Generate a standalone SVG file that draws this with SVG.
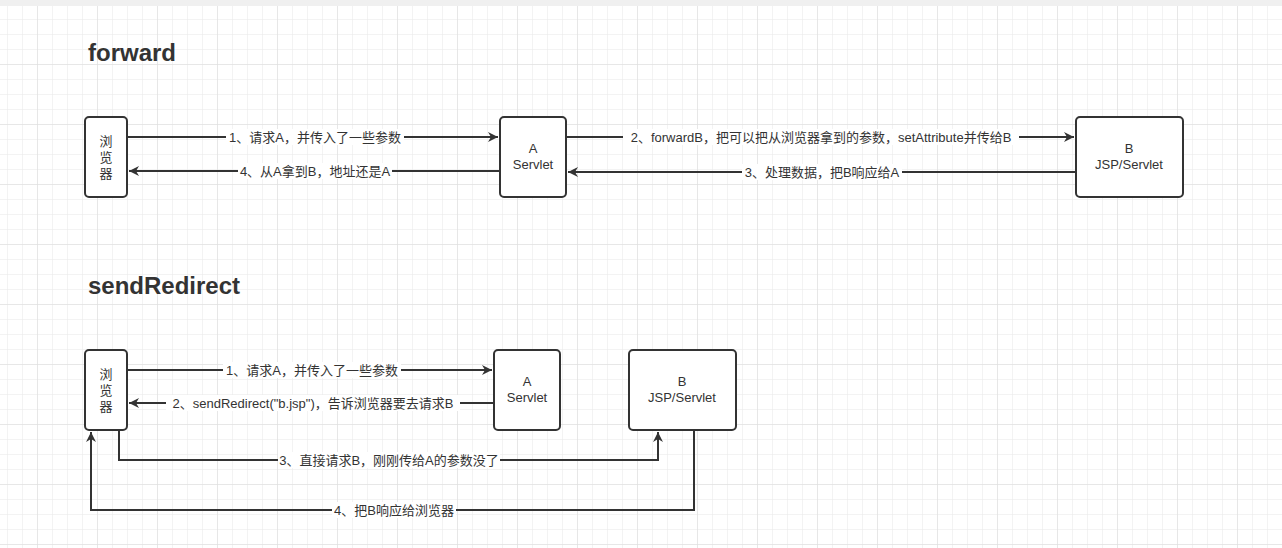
<svg xmlns="http://www.w3.org/2000/svg" width="1282" height="548" viewBox="0 0 1282 548">
<defs>
<pattern id="g" x="7" y="4" width="15" height="15" patternUnits="userSpaceOnUse"><path d="M0 0H15M0 0V15" stroke="#e8e8e8" stroke-width="1" fill="none"/></pattern>
<pattern id="G" x="37" y="4" width="60" height="60" patternUnits="userSpaceOnUse"><path d="M0 0H60M0 0V60" stroke="#dcdcdc" stroke-width="1" fill="none"/></pattern>
<marker id="a" viewBox="0 0 10 10" refX="10" refY="5" markerWidth="5" markerHeight="5" orient="auto"><path d="M0 0L10 5L0 10L3 5Z" fill="#333"/></marker>
</defs>
<style>
.n{fill:#fff;stroke:#333;stroke-width:2}
.t{font-family:"Liberation Sans","Noto Sans CJK SC",sans-serif;font-size:13px;fill:#333;text-anchor:middle}
.h{font-family:"Liberation Sans","Noto Sans CJK SC",sans-serif;font-size:24px;font-weight:bold;fill:#333}
.c{fill:none;stroke:#333;stroke-width:2;marker-end:url(#a)}
.l{font-family:"Liberation Sans","Noto Sans CJK SC",sans-serif;font-size:13px;fill:#333;text-anchor:middle}
.bg{fill:#fff}
</style>
<rect width="1282" height="548" fill="#fff"/>
<rect width="1282" height="548" fill="url(#g)"/>
<rect width="1282" height="548" fill="url(#G)"/>
<rect width="1282" height="6" fill="#f0f0f0"/>
<text class="h" x="88" y="61">forward</text>
<text class="h" x="88" y="294">sendRedirect</text>
<g id="connectors">
<path class="c" d="M127 137H498"/>
<path class="c" d="M500 171H129"/>
<path class="c" d="M566 137H1074"/>
<path class="c" d="M1076 172H568"/>
<path class="c" d="M127 370H492"/>
<path class="c" d="M494 403H129"/>
<path class="c" d="M119 430V460H658V432"/>
<path class="c" d="M694 430V510H91V432"/>
<rect class="bg" x="226" y="129" width="178" height="16"/><text class="l" x="315" y="142">1、请求A，并传入了一些参数</text>
<rect class="bg" x="238" y="163" width="154" height="16"/><text class="l" x="315" y="176">4、从A拿到B，地址还是A</text>
<rect class="bg" x="623" y="129" width="396" height="16"/><text class="l" x="821" y="142">2、forwardB，把可以把从浏览器拿到的参数，setAttribute并传给B</text>
<rect class="bg" x="742" y="164" width="160" height="16"/><text class="l" x="822" y="177">3、处理数据，把B响应给A</text>
<rect class="bg" x="223" y="362" width="178" height="16"/><text class="l" x="312" y="375">1、请求A，并传入了一些参数</text>
<rect class="bg" x="166" y="395" width="294" height="16"/><text class="l" x="313" y="408">2、sendRedirect("b.jsp")，告诉浏览器要去请求B</text>
<rect class="bg" x="278" y="452" width="222" height="16"/><text class="l" x="389" y="465">3、直接请求B，刚刚传给A的参数没了</text>
<rect class="bg" x="332" y="502" width="124" height="16"/><text class="l" x="394" y="515">4、把B响应给浏览器</text>
</g>
<g id="f-browser"><rect class="n" x="85" y="117" width="42" height="80" rx="4"/><text class="t" x="106" y="146">浏</text><text class="t" x="106" y="162">览</text><text class="t" x="106" y="178">器</text></g>
<g id="f-a"><rect class="n" x="500" y="117" width="66" height="80" rx="4"/><text class="t" x="533" y="153">A</text><text class="t" x="533" y="169">Servlet</text></g>
<g id="f-b"><rect class="n" x="1076" y="117" width="107" height="80" rx="4"/><text class="t" x="1129" y="153">B</text><text class="t" x="1129" y="169">JSP/Servlet</text></g>
<g id="r-browser"><rect class="n" x="85" y="350" width="42" height="80" rx="4"/><text class="t" x="106" y="379">浏</text><text class="t" x="106" y="395">览</text><text class="t" x="106" y="411">器</text></g>
<g id="r-a"><rect class="n" x="494" y="350" width="66" height="80" rx="4"/><text class="t" x="527" y="386">A</text><text class="t" x="527" y="402">Servlet</text></g>
<g id="r-b"><rect class="n" x="629" y="350" width="107" height="80" rx="4"/><text class="t" x="682" y="386">B</text><text class="t" x="682" y="402">JSP/Servlet</text></g>
</svg>
